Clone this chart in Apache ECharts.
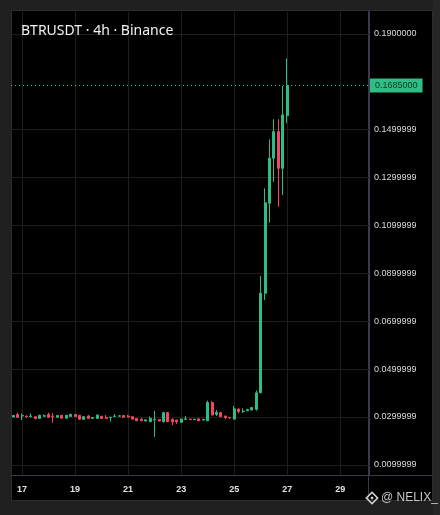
<!DOCTYPE html>
<html><head><meta charset="utf-8">
<script src="https://cdn.jsdelivr.net/npm/echarts@6/dist/echarts.min.js"></script>
<style>
html,body{margin:0;padding:0;background:#1f1f1f;overflow:hidden;}
#panel{position:absolute;left:11px;top:10px;width:420px;height:489px;background:#000;border:1px solid #2c2c2c;}
#side{position:absolute;left:433px;top:0;width:7px;height:515px;background:#262626;}
#c{position:absolute;left:0;top:0;width:440px;height:515px;}
</style></head><body>
<div id="panel"></div><div id="side"></div><div id="c"></div>
<script>
// 4h candle times (day hh:mm), incl. empty future slots
const categories = [
'16 16:00','16 20:00',
'17 00:00','17 04:00','17 08:00','17 12:00','17 16:00','17 20:00',
'18 00:00','18 04:00','18 08:00','18 12:00','18 16:00','18 20:00',
'19 00:00','19 04:00','19 08:00','19 12:00','19 16:00','19 20:00',
'20 00:00','20 04:00','20 08:00','20 12:00','20 16:00','20 20:00',
'21 00:00','21 04:00','21 08:00','21 12:00','21 16:00','21 20:00',
'22 00:00','22 04:00','22 08:00','22 12:00','22 16:00','22 20:00',
'23 00:00','23 04:00','23 08:00','23 12:00','23 16:00','23 20:00',
'24 00:00','24 04:00','24 08:00','24 12:00','24 16:00','24 20:00',
'25 00:00','25 04:00','25 08:00','25 12:00','25 16:00','25 20:00',
'26 00:00','26 04:00','26 08:00','26 12:00','26 16:00','26 20:00',
'27 00:00','27 04:00','27 08:00','27 12:00','27 16:00','27 20:00',
'28 00:00','28 04:00','28 08:00','28 12:00','28 16:00','28 20:00',
'29 00:00','29 04:00','29 08:00','29 12:00','29 16:00','29 20:00',
'30 00:00'];

const opens = [
0.0300,0.0310,0.0304,0.0304,0.0301,0.0301,0.0294,0.0303,0.0310,0.0304,
0.0299,0.0307,0.0295,0.0302,0.0310,0.0307,0.0290,0.0304,0.0294,0.0294,
0.0303,0.0298,0.0298,0.0302,0.0303,0.0306,0.0304,0.0301,0.0293,0.0290,
0.0283,0.0280,0.0288,0.0289,0.0280,0.0318,0.0290,0.0287,0.0278,0.0290,
0.0291,0.0289,0.0292,0.0287,0.0284,0.0360,0.0311,0.0318,0.0304,0.0298,
0.0291,0.0333,0.0322,0.0326,0.0329,0.0332,0.0401,0.0817,0.1193,0.1381,
0.1492,0.1339,0.1559];
const closes = [
0.0306,0.0299,0.0306,0.0302,0.0304,0.0293,0.0307,0.0305,0.0299,0.0302,
0.0306,0.0295,0.0307,0.0310,0.0302,0.0290,0.0301,0.0294,0.0298,0.0308,
0.0294,0.0294,0.0299,0.0303,0.0305,0.0299,0.0300,0.0291,0.0284,0.0284,
0.0288,0.0294,0.0290,0.0283,0.0318,0.0280,0.0280,0.0280,0.0291,0.0292,
0.0289,0.0291,0.0284,0.0290,0.0360,0.0308,0.0319,0.0301,0.0298,0.0296,
0.0334,0.0322,0.0324,0.0331,0.0339,0.0401,0.0817,0.1195,0.1381,0.1492,
0.1339,0.1562,0.1685];
const lows = [
0.0299,0.0298,0.0287,0.0296,0.0300,0.0291,0.0293,0.0302,0.0298,0.0276,
0.0298,0.0294,0.0294,0.0301,0.0301,0.0289,0.0289,0.0293,0.0293,0.0293,
0.0293,0.0293,0.0280,0.0301,0.0302,0.0298,0.0299,0.0290,0.0283,0.0283,
0.0282,0.0279,0.0217,0.0282,0.0277,0.0279,0.0266,0.0271,0.0277,0.0289,
0.0288,0.0288,0.0283,0.0286,0.0283,0.0307,0.0304,0.0300,0.0291,0.0293,
0.0290,0.0315,0.0317,0.0325,0.0328,0.0326,0.0399,0.0789,0.1112,0.1282,
0.1178,0.1227,0.1527];
const highs = [
0.0307,0.0318,0.0315,0.0305,0.0315,0.0302,0.0309,0.0310,0.0318,0.0315,
0.0307,0.0308,0.0308,0.0315,0.0311,0.0309,0.0304,0.0308,0.0299,0.0309,
0.0304,0.0308,0.0300,0.0312,0.0306,0.0307,0.0309,0.0302,0.0294,0.0296,
0.0289,0.0302,0.0325,0.0290,0.0321,0.0321,0.0294,0.0288,0.0293,0.0304,
0.0292,0.0292,0.0293,0.0291,0.0368,0.0366,0.0329,0.0322,0.0305,0.0299,
0.0346,0.0336,0.0336,0.0332,0.0342,0.0411,0.0889,0.1255,0.1460,0.1544,
0.1544,0.1683,0.1798];

const yTickValues = [0.01,0.03,0.05,0.07,0.09,0.11,0.13,0.15,0.19];
const yTickLabels = ['0.0099999','0.0299999','0.0499999','0.0699999','0.0899999','0.1099999','0.1299999','0.1499999','0.1900000'];
const xTickDays = ['17','19','21','23','25','27','29'];

const UP = '#2ebd85', DOWN = '#f6465d';
const candles = opens.map((o, i) => [o, closes[i], lows[i], highs[i]]);
const lastClose = closes[closes.length - 1];

function isDayTick(idx) {
  const c = categories[idx];
  if (!c) return false;
  const [d, t] = c.split(' ');
  return t === '00:00' && xTickDays.indexOf(d) >= 0;
}

const chart = echarts.init(document.getElementById('c'), null, {renderer: 'canvas'});
chart.setOption({
  animation: false,
  backgroundColor: 'transparent',
  title: {
    text: 'BTRUSDT · 4h · Binance',
    left: 21, top: 24, padding: 0,
    textStyle: {color: '#f2f2f2', fontSize: 14, fontWeight: 'normal', fontFamily: 'Noto Sans'}
  },
  grid: {left: 11, right: 71, top: 12, bottom: 40},
  xAxis: {
    type: 'category',
    data: categories,
    boundaryGap: true,
    axisLine: {show: true, lineStyle: {color: '#363c4e'}},
    axisTick: {show: false},
    axisLabel: {
      interval: (idx) => isDayTick(idx),
      formatter: (v) => v.split(' ')[0],
      color: '#e2e2e2', fontSize: 9, fontWeight: 'bold', fontFamily: 'Liberation Sans', margin: 10
    },
    splitLine: {show: true, interval: (idx) => isDayTick(idx), alignWithLabel: true, lineStyle: {color: '#1e1e1e', width: 1}}
  },
  yAxis: {
    type: 'value',
    position: 'right',
    min: 0.00575,
    max: 0.19919,
    scale: true,
    axisLine: {show: true, lineStyle: {color: '#363c4e'}},
    axisTick: {show: false, customValues: yTickValues},
    axisLabel: {
      customValues: yTickValues,
      formatter: (v) => {
        let best = 0;
        yTickValues.forEach((t, i) => { if (Math.abs(t - v) < Math.abs(yTickValues[best] - v)) best = i; });
        return yTickLabels[best];
      },
      color: '#dcdcdc', fontSize: 9, fontFamily: 'Liberation Sans', margin: 5
    },
    splitLine: {show: true, lineStyle: {color: '#1e1e1e', width: 1}}
  },
  series: [{
    type: 'candlestick',
    data: candles,
    barWidth: 2.5,
    itemStyle: {color: UP, color0: DOWN, borderColor: UP, borderColor0: DOWN, borderWidth: 1},
    markLine: {
      silent: true,
      precision: 7,
      symbol: ['none', 'none'],
      data: [{yAxis: lastClose}],
      lineStyle: {color: UP, type: [1, 3], width: 1},
      label: {
        show: true, position: 'end', distance: 1,
        formatter: () => lastClose.toFixed(7),
        backgroundColor: UP, color: '#123526', fontSize: 9, fontFamily: 'Liberation Sans',
        padding: [3, 5, 2, 5]
      }
    }
  }],
  graphic: [
    {type: 'line', silent: true, shape: {x1: 11, y1: 475.5, x2: 432, y2: 475.5}, style: {stroke: '#363c4e', lineWidth: 1}},
    {type: 'line', silent: true, shape: {x1: 368.5, y1: 10, x2: 368.5, y2: 500}, style: {stroke: '#363c4e', lineWidth: 1}},
    {type: 'group', x: 372, y: 498, rotation: Math.PI / 4, children: [
      {type: 'rect', shape: {x: -4, y: -4, width: 8, height: 8}, style: {fill: 'none', stroke: '#d0d0d0', lineWidth: 1.6}},
      {type: 'rect', shape: {x: -1.2, y: -1.2, width: 2.4, height: 2.4}, style: {fill: '#d0d0d0'}}
    ]},
    {type: 'text', x: 381, y: 498, style: {text: '@ NELIX_', fill: '#c8c8c8', fontSize: 12, fontFamily: 'Liberation Sans', verticalAlign: 'middle', align: 'left'}}
  ]
});
</script>
</body></html>
